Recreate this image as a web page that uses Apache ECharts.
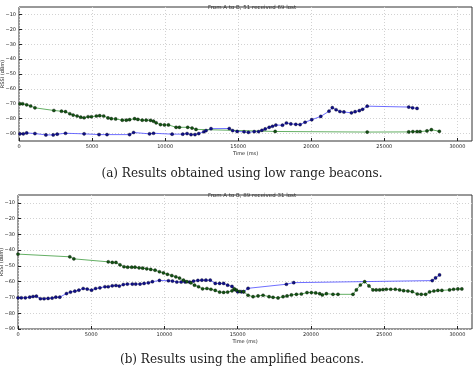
<!DOCTYPE html>
<html>
<head>
<meta charset="utf-8">
<script src="https://cdn.jsdelivr.net/npm/echarts@6/dist/echarts.min.js"></script>
<style>html,body{margin:0;padding:0;background:#fff}#c{width:474px;height:367px}</style>
</head>
<body>
<div id="c"></div>
<script>
// ---------- chart (a): low range beacons ----------
const titleA = 'From A to B, 51 received 69 lost';
const captionA = '(a) Results obtained using low range beacons.';
const aBlueTime = [68,295,523,1090,1841,2341,2614,3182,4455,5477,6023,7568,7841,8932,9205,10477,11205,11500,11773,12045,12300,12650,12800,13140,14390,14618,14930,15400,15700,16098,16394,16623,16848,17121,17346,17576,18030,18302,18602,18943,19236,19577,20034,20650,21214,21441,21700,21962,22235,22750,23000,23290,23510,23828,26670,26930,27240];
const aBlueRssi = [-90.2,-90.2,-89.6,-90,-90.9,-90.9,-90.4,-89.8,-90.2,-90.7,-90.7,-90.7,-89.3,-90.2,-89.8,-90.4,-90.4,-90,-90.7,-90.7,-90,-88.8,-88,-86.7,-86.6,-88,-88.6,-88.8,-89.2,-88.7,-88.7,-87.8,-86.9,-85.8,-85.1,-84.3,-84.4,-82.9,-83.5,-83.8,-84,-82.4,-80.7,-78.5,-75,-72.6,-74,-75.2,-75.5,-76.1,-75.3,-74.6,-73.7,-71.6,-72.2,-72.7,-73.1];
const aGreenTime = [68,250,523,795,1090,2386,2909,3182,3477,3705,3977,4227,4455,4727,4955,5295,5523,5795,6091,6318,6614,7068,7341,7568,7909,8136,8432,8705,9000,9205,9386,9682,9955,10227,10750,10977,11545,11841,12114,17530,23830,26670,26955,27240,27445,27920,28220,28765];
const aGreenRssi = [-70,-70,-70.7,-71.5,-72.7,-74.5,-75,-75.3,-76.7,-77.6,-78.2,-79,-79.4,-78.7,-78.7,-78.2,-78,-78.2,-79.5,-80,-80.2,-81,-81,-80.7,-80,-80.5,-81,-81,-81.1,-81.7,-82.8,-84,-84.2,-84.2,-85.8,-85.8,-85.8,-86.3,-87.2,-88.6,-89,-88.9,-88.7,-88.7,-88.7,-88.2,-87.4,-88.5];

// ---------- chart (b): amplified beacons ----------
const titleB = 'From A to B, 89 received 31 lost';
const captionB = '(b) Results using the amplified beacons.';
const bBlueTime = [0,228,502,799,1027,1256,1530,1781,2055,2329,2580,2854,3311,3584,3881,4155,4452,4726,5023,5297,5594,5936,6164,6438,6689,6918,7192,7466,7808,8037,8333,8607,8904,9178,9658,10274,10548,10845,11142,11416,11712,11986,12283,12557,12831,13128,13470,13767,14041,14315,14612,14800,15000,15256,15411,15710,18326,18827,28285,28510,28783];
const bBlueRssi = [-70.2,-70.2,-70.2,-69.8,-69.4,-69.2,-70.8,-70.8,-70.6,-70.4,-69.8,-69.8,-67.5,-66.6,-66,-65.4,-64.3,-64.7,-65.4,-64.3,-63.9,-63.2,-63.2,-62.6,-62.4,-62.8,-61.8,-61.5,-61.5,-61.5,-61.5,-61.1,-60.7,-60,-59.2,-59.4,-59.6,-60.2,-60.2,-60.2,-60.2,-59.6,-59.2,-59,-59,-59,-61.1,-61.1,-61.1,-62.2,-63,-65,-66.4,-66.4,-66.4,-64.2,-61.6,-60.6,-59.3,-57.6,-55.7];
const bGreenTime = [0,3539,3813,6164,6438,6689,6963,7237,7489,7763,7991,8265,8516,8790,9064,9361,9658,9932,10205,10502,10776,11027,11301,11530,11804,12055,12329,12603,12900,13174,13470,13767,14041,14315,14612,14760,14918,15143,15400,15710,16051,16392,16733,17143,17416,17757,18098,18371,18669,19010,19351,19734,20034,20327,20600,20780,21057,21508,21850,22873,23103,23375,23670,23964,24237,24460,24693,24920,25150,25450,25763,26057,26330,26625,26920,27264,27536,27830,28103,28397,28670,28943,29468,29741,30034,30307];
const bGreenRssi = [-42.5,-44.2,-45.5,-47.4,-47.8,-47.8,-49.3,-50.5,-50.8,-50.8,-50.8,-51.2,-51.4,-51.8,-52.2,-52.7,-53.7,-54.4,-55.3,-56.1,-56.9,-57.7,-59,-60,-60.7,-62.2,-63.2,-64.5,-64.3,-64.8,-65.5,-66.6,-66.8,-66.6,-65.8,-64.5,-65.4,-66.2,-66.3,-68.6,-69.5,-69,-68.6,-69.5,-69.9,-70.3,-69.5,-69,-68.4,-68,-67.8,-66.9,-66.9,-67.1,-67.6,-68.4,-67.6,-68,-68,-68,-65.2,-62.1,-60,-62.7,-65.2,-65.2,-65.2,-65,-64.8,-64.8,-64.8,-65.2,-65.7,-65.9,-66.3,-67.8,-68,-68,-66.5,-65.9,-65.5,-65.5,-65.2,-64.8,-64.6,-64.6];

// ---------- axes ticks ----------
const xTicks = [0,5000,10000,15000,20000,25000,30000];
const yTicks = [-90,-80,-70,-60,-50,-40,-30,-20,-10];
const xLabel = 'Time (ms)';
const yLabel = 'RSSI (dBm)';

const zip = (t, v) => t.map((x, i) => [x, v[i]]);
const FONT = 'DejaVu Sans';
const gridStyle = { show: true, lineStyle: { color: '#d2d2d2', type: [1, 2], width: 1 } };

function xAxisFor(gridIndex) {
  return {
    type: 'value', gridIndex, min: 0, max: 31000, interval: 5000,
    name: xLabel, nameLocation: 'middle', nameGap: 10, nameMoveOverlap: false,
    nameTextStyle: { fontFamily: FONT, fontSize: 5, color: '#222' },
    axisLine: { show: false },
    axisTick: { show: true, inside: true, length: 3, lineStyle: { color: '#222' }, customValues: xTicks },
    axisLabel: { fontFamily: FONT, fontSize: 5, color: '#222', margin: 3, customValues: xTicks,
      formatter: v => String(v) },
    splitLine: gridStyle
  };
}
function yAxisFor(gridIndex, min) {
  return {
    type: 'value', gridIndex, min, max: -5,
    name: yLabel, nameLocation: 'middle', nameGap: 14, nameMoveOverlap: false,
    nameTextStyle: { fontFamily: FONT, fontSize: 5, color: '#222' },
    axisLine: { show: false },
    axisTick: { show: true, inside: true, length: 3, lineStyle: { color: '#222' }, customValues: yTicks },
    axisLabel: { fontFamily: FONT, fontSize: 5, color: '#222', margin: 3, customValues: yTicks,
      formatter: v => String(v).replace('-', '\u2212') },
    splitLine: gridStyle
  };
}
function lineSeries(idx, data, lineColor, markColor) {
  return {
    type: 'line', xAxisIndex: idx, yAxisIndex: idx, data,
    symbol: 'circle', symbolSize: 3.2, showSymbol: true, animation: false,
    lineStyle: { color: lineColor, width: 0.8 },
    itemStyle: { color: markColor, borderColor: '#000', borderWidth: 0.3 }
  };
}

const chart = echarts.init(document.getElementById('c'), null, { renderer: 'canvas' });
chart.setOption({
  animation: false,
  backgroundColor: '#fff',
  title: [
    { text: titleA, left: 247, top: 0, textAlign: 'center', textStyle: { fontFamily: FONT, fontSize: 5.5, fontWeight: 'normal', color: '#333' } },
    { text: titleB, left: 247, top: 188, textAlign: 'center', textStyle: { fontFamily: FONT, fontSize: 5.5, fontWeight: 'normal', color: '#333' } },
    { text: captionA, left: 237, top: 163, textAlign: 'center', textStyle: { fontFamily: 'DejaVu Serif', fontSize: 12, fontWeight: 'normal', color: '#222' } },
    { text: captionB, left: 237, top: 349, textAlign: 'center', textStyle: { fontFamily: 'DejaVu Serif', fontSize: 12, fontWeight: 'normal', color: '#222' } }
  ],
  grid: [
    { left: 19, top: 7, right: 2, height: 134, show: true, borderColor: '#333', borderWidth: 1, containLabel: false, outerBoundsMode: 'none' },
    { left: 18, top: 195, right: 2, height: 134, show: true, borderColor: '#333', borderWidth: 1, containLabel: false, outerBoundsMode: 'none' }
  ],
  xAxis: [xAxisFor(0), xAxisFor(1)],
  yAxis: [yAxisFor(0, -95), yAxisFor(1, -90)],
  series: [
    lineSeries(0, zip(aBlueTime, aBlueRssi), '#4a4aff', '#10108a'),
    lineSeries(0, zip(aGreenTime, aGreenRssi), '#3c9a3c', '#145214'),
    lineSeries(1, zip(bBlueTime, bBlueRssi), '#4a4aff', '#10108a'),
    lineSeries(1, zip(bGreenTime, bGreenRssi), '#3c9a3c', '#145214')
  ]
});
</script>
</body>
</html>
